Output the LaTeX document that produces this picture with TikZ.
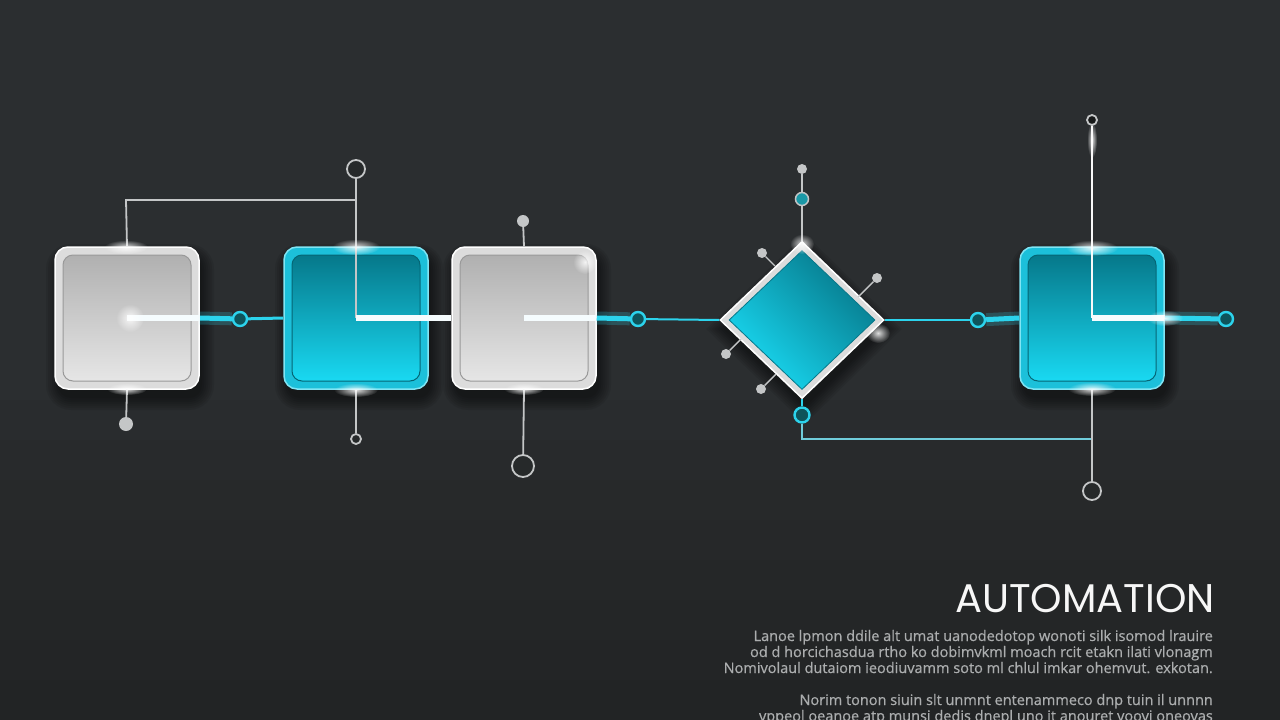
\documentclass[tikz,border=0pt]{standalone}
\usepackage{fontspec}
\usetikzlibrary{shapes.geometric,fadings}
\newfontfamily\titlefont{Poppins}
\newfontfamily\bodyfont[FakeBold=0.6]{Open Sans}
\definecolor{bgmid}{HTML}{2B2E30}
\definecolor{wire}{HTML}{C4C6C7}
\definecolor{cyanline}{HTML}{2CD3EC}
\definecolor{cyanrim}{HTML}{1CC0DA}
\definecolor{cyantop}{HTML}{06788A}
\definecolor{cyanbot}{HTML}{19D9F2}
\definecolor{silvrim}{HTML}{DCDCDC}
\definecolor{silvtop}{HTML}{B0B0B0}
\definecolor{silvbot}{HTML}{E6E6E6}
\definecolor{tealdot}{HTML}{1A98A6}
\definecolor{textgrey}{HTML}{ABADAE}
\definecolor{ringfill}{HTML}{26292A}
\tikzfading[name=glowfade, inner color=transparent!0, outer color=transparent!100]
\pgfdeclarelayer{bglayer}
\pgfdeclarelayer{boxlayer}
\pgfdeclarelayer{wirelayer}
\pgfsetlayers{bglayer,boxlayer,wirelayer,main}
\begin{document}
\begin{tikzpicture}[x=1pt,y=-1pt,
  silverbox/.style={rounded corners=13pt, minimum width=144pt, minimum height=142pt, inner sep=0pt, fill=silvrim, draw=white, line width=1.5pt},
  silverpanel/.style={rounded corners=10pt, minimum width=128pt, minimum height=126pt, inner sep=0pt, draw=gray!80, line width=1pt, top color=silvtop, bottom color=silvbot},
  cyanbox/.style={rounded corners=13pt, minimum width=144pt, minimum height=142pt, inner sep=0pt, fill=cyanrim, draw=cyanline!60!white, line width=1.5pt},
  cyanpanel/.style={rounded corners=10pt, minimum width=128pt, minimum height=126pt, inner sep=0pt, draw=cyantop!85!black, line width=1pt, top color=cyantop, bottom color=cyanbot},
  diarim/.style={diamond, minimum width=164pt, minimum height=157pt, inner sep=0pt, fill=silvrim, draw=white, line width=1.5pt},
  diapanel/.style={diamond, minimum width=146pt, minimum height=139pt, inner sep=0pt, draw=cyantop, line width=0.8pt, top color=cyantop, bottom color=cyanbot, shading angle=-45},
  shadowpiece/.style={fill=black, opacity=0.075},
  wire/.style={draw=wire, line width=1.8pt},
  cwire/.style={draw=cyanline, line width=2pt},
  cthick/.style={draw=cyanline, line width=5pt},
  cglow/.style={draw=cyanline, line width=13pt, opacity=0.22},
  whitecore/.style={draw=white!96!cyan, line width=5.5pt},
  ring/.style={circle, draw=wire, line width=1.8pt, fill=ringfill, inner sep=0pt},
  cring/.style={circle, draw=cyanline, line width=2.4pt, fill=tealdot!55!black, inner sep=0pt},
  dot/.style={circle, fill=wire, inner sep=0pt},
  glow/.style={fill=white, path fading=glowfade, opacity=0.85},
  bodytext/.style={anchor=base east, inner sep=0pt, text=textgrey, font=\bodyfont\fontsize{14.5}{14.5}\selectfont}
]
\useasboundingbox (0,0) rectangle (1280,720);
\clip (0,0) rectangle (1280,720);
\begin{pgfonlayer}{bglayer}
\fill[bgmid] (0,0) rectangle (1280,720);
\foreach \i in {0,...,7}{
  \fill[black, opacity=0.022] (0,400+\i*40) rectangle (1280,720);
}
% soft shadows under the boxes
\foreach \cx in {127,356,524,1092}{
  \foreach \i in {0,2,...,12}{
    \fill[shadowpiece, rounded corners=13pt+\i pt]
      (\cx-72-\i+3, 247-\i+9) rectangle (\cx+72+\i+3, 389+\i+9);
  }
}
\foreach \i in {0,2,...,12}{
  \fill[shadowpiece] (805,242-\i*1.4+9) -- (885+\i*1.4,320+9) -- (805,398+\i*1.4+9) -- (723-\i*1.4,320+9) -- cycle;
}
\end{pgfonlayer}

% ---------- boxes ----------
\begin{pgfonlayer}{boxlayer}
\node[silverbox] (b1) at (127,318) {};
\node[silverpanel] (p1) at (b1.center) {};
\node[cyanbox] (b2) at (356,318) {};
\node[cyanpanel] (p2) at (b2.center) {};
\node[silverbox] (b3) at (524,318) {};
\node[silverpanel] (p3) at (b3.center) {};
\node[diarim] (dm) at (802,320) {};
\node[diapanel] (dp) at (dm.center) {};
\node[cyanbox] (b5) at (1092,318) {};
\node[cyanpanel] (p5) at (b5.center) {};
\end{pgfonlayer}

% ---------- rings and dots ----------
\node[ring, minimum size=18pt] (t2) at (356,169) {};
\node[cring, minimum size=14pt] (r1) at (240,319) {};
\node[dot, minimum size=14pt] (d1) at (126,424) {};
\node[ring, minimum size=10pt] (s2) at (356,439) {};
\node[dot, minimum size=12pt] (d3) at (523,221) {};
\node[ring, minimum size=22pt] (s3) at (523,466) {};
\node[cring, minimum size=14pt] (r3) at (638,319) {};
\node[dot, minimum size=10pt] (dtop) at (802,169) {};
\node[circle, draw=wire, line width=1.5pt, fill=tealdot, inner sep=0pt, minimum size=13pt] (dteal) at (802,199) {};
\node[dot, minimum size=10pt] (e1) at (762,253) {};
\node[dot, minimum size=10pt] (e2) at (877,278) {};
\node[dot, minimum size=10pt] (e3) at (726,354) {};
\node[dot, minimum size=10pt] (e4) at (761,389) {};
\node[cring, minimum size=15pt] (dbot) at (802,415) {};
\node[cring, minimum size=14pt] (r4) at (978,320) {};
\node[cring, minimum size=14pt] (r5) at (1226,319) {};
\node[ring, minimum size=10pt, fill=ringfill!60!black] (t5) at (1092,120) {};
\node[ring, minimum size=18pt] (s5) at (1092,491) {};

\coordinate (k1) at (126,200);
\coordinate (k2) at (356,200);
\coordinate (ea) at (775,266);
\coordinate (eb) at (858,297);
\coordinate (ec) at (741,339);
\coordinate (ed) at (776,374);
\coordinate (q1) at (802,439);
\coordinate (q2) at (1092,439);

% ---------- wires ----------
\begin{pgfonlayer}{wirelayer}
\draw[wire] (b1.north) -- (k1) -- (k2);
\draw[wire] (t2) -- (b2.center);
\draw[wire] (b1.south) -- (d1);
\draw[wire] (b2.south) -- (s2);
\draw[wire] (b3.north) -- (d3);
\draw[wire] (b3.south) -- (s3);
\draw[wire] (dtop) -- (dteal);
\draw[wire] (dteal) -- (dm.north);
\draw[wire, line width=1.4pt] (ea) -- (e1);
\draw[wire, line width=1.4pt] (eb) -- (e2);
\draw[wire, line width=1.4pt] (ec) -- (e3);
\draw[wire, line width=1.4pt] (ed) -- (e4);
\draw[cwire] (dm.south) -- (dbot);
\draw[draw=cyanline!55!wire, line width=1.8pt] (dbot) -- (q1) -- (q2);
\draw[wire] (b5.south) -- (s5);
\draw[draw=white!90!wire, line width=1.8pt] (t5) -- (b5.center);
% glowing main line
\draw[cglow] (b1.east) -- (r1);
\draw[cthick] (b1.east) -- (r1);
\draw[whitecore] (b1.center) -- (b1.east);
\draw[cwire, line width=3pt] (r1) -- (b2.west);
\draw[whitecore] (b2.center) -- (b3.west);
\draw[whitecore] (b3.center) -- (b3.east);
\draw[cglow] (b3.east) -- (r3);
\draw[cthick] (b3.east) -- (r3);
\draw[cwire] (r3) -- (dm.west);
\draw[cwire] (dm.east) -- (r4);
\draw[cglow] (r4) -- (b5.west);
\draw[cthick] (r4) -- (b5.west);
\draw[whitecore] (b5.center) -- (b5.east);
\draw[cglow] (b5.east) -- (r5);
\draw[cthick] (b5.east) -- (r5);
\end{pgfonlayer}

% ---------- glints ----------
\fill[glow] (126,247) ellipse (22 and 7);
\fill[glow] (127,389) ellipse (20 and 6);
\fill[glow] (356,247) ellipse (24 and 8);
\fill[glow] (356,390) ellipse (22 and 7);
\fill[glow] (524,389) ellipse (20 and 6);
\fill[glow] (585,262) ellipse (12 and 12);
\fill[glow] (802,244) ellipse (12 and 10);
\fill[glow] (878,333) ellipse (12 and 10);
\fill[glow] (1092,248) ellipse (26 and 8);
\fill[glow] (1092,389) ellipse (24 and 7);
\fill[glow] (1165,318) ellipse (18 and 8);
\fill[glow] (1092,140) ellipse (5 and 18);
\fill[glow] (130,318) ellipse (14 and 14);

% ---------- text ----------
\node[anchor=base east, inner sep=0pt, text=white!94!gray, font=\titlefont\fontsize{40}{40}\selectfont] (title) at (1215,612) {AUTOMATION};
\node[bodytext] (l1) at (1213,641) {Lanoe lpmon ddile alt umat uanodedotop wonoti silk isomod lrauire};
\node[bodytext] (l2) at (1213,657) {od d horcichasdua rtho ko dobimvkml moach rcit etakn ilati vlonagm};
\node[bodytext] (l3) at (1213,673) {Nomivolaul dutaiom ieodiuvamm soto ml chlul imkar ohemvut. exkotan.};
\node[bodytext] (l4) at (1213,705) {Norim tonon siuin slt unmnt entenammeco dnp tuin il unnnn};
\node[bodytext] (l5) at (1213,721) {vppeol oeanoe atp munsi dedis dnepl uno it anouret yoovi oneovas};
\end{tikzpicture}
\end{document}
